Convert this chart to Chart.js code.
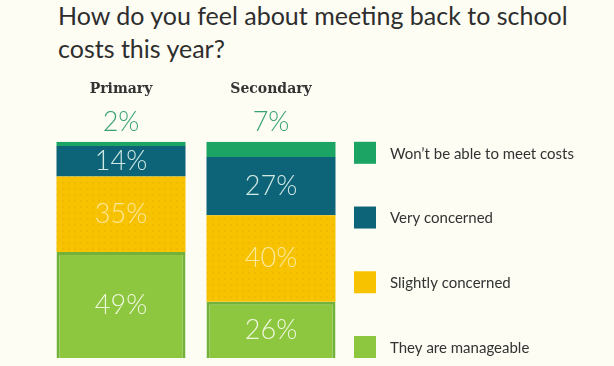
<!DOCTYPE html>
<html>
<head>
<meta charset="utf-8">
<script src="https://cdn.jsdelivr.net/npm/chart.js@4"></script>
<style>
  html, body { margin: 0; padding: 0; background: #fdfdf4; }
  #wrap { position: relative; width: 614px; height: 366px; }
  #title {
    position: absolute; left: 58px; top: -1px; margin: 0;
    font-family: Lato, sans-serif; font-weight: normal; font-size: 25px; line-height: 33px;
    color: #2e2e2e;
  }
  canvas { position: absolute; left: 0; top: 0; }
</style>
</head>
<body>
<div id="wrap">
  <h1 id="title">How do you feel about meeting back to school<br>costs this year?</h1>
  <canvas id="schoolChart" width="614" height="366"></canvas>
</div>
<script>
// survey answers, % of parents
const categories = ['Primary', 'Secondary'];
const manageable = [49, 26];
const slightlyConcerned = [35, 40];
const veryConcerned = [14, 27];
const wontMeetCosts = [2, 7];
const seriesNames = ['They are manageable', 'Slightly concerned', 'Very concerned', 'Won\u2019t be able to meet costs'];

// dotted yellow fill like the original
function dotPattern() {
    const c = document.createElement('canvas');
    c.width = 6; c.height = 6;
    const g = c.getContext('2d');
    g.fillStyle = '#f7c300';
    g.fillRect(0, 0, 6, 6);
    g.fillStyle = '#eeb600';
    g.beginPath();
    g.arc(3, 3, 0.9, 0, Math.PI * 2);
    g.fill();
    return g.createPattern(c, 'repeat');
}

const textColors = ['#eef7dc', '#fde79a', '#cfe9e3', '#3aa271'];

// percent labels inside each segment (small ones go above the bar)
const valueLabels = {
    id: 'valueLabels',
    afterDatasetsDraw(chart) {
        const c = chart.ctx;
        c.save();
        c.font = '300 27px Lato, sans-serif';
        c.textAlign = 'center';
        c.textBaseline = 'middle';
        chart.data.datasets.forEach((ds, i) => {
            const meta = chart.getDatasetMeta(i);
            meta.data.forEach((bar, j) => {
                const v = ds.data[j];
                if (v < 10) {
                    c.fillStyle = textColors[3];
                    c.fillText(v + '%', bar.x, bar.y - 20);
                } else {
                    c.fillStyle = textColors[i];
                    c.fillText(v + '%', bar.x, (bar.y + bar.base) / 2);
                }
            });
        });
        c.restore();
    }
};

// legend on the right, spread over the height of the bars
const sideLegend = {
    id: 'sideLegend',
    afterDraw(chart) {
        const c = chart.ctx;
        const area = chart.chartArea;
        const box = 22;
        const n = chart.data.datasets.length;
        const step = (area.bottom - area.top - box) / (n - 1);
        c.save();
        c.font = '15px Lato, sans-serif';
        c.textBaseline = 'middle';
        for (let k = 0; k < n; k++) {
            const ds = chart.data.datasets[n - 1 - k];
            const y = area.top + k * step;
            const x = area.right + 8;
            c.fillStyle = ds.legendColor;
            c.fillRect(x, y, box, box);
            c.fillStyle = '#333';
            c.fillText(ds.label, x + box + 14, y + box / 2 + 1);
        }
        c.restore();
    }
};

const yellow = dotPattern();

new Chart(document.getElementById('schoolChart'), {
    type: 'bar',
    data: {
        labels: categories,
        datasets: [
            { label: seriesNames[0], data: manageable, backgroundColor: '#8dc63f', borderColor: '#72b23a', borderWidth: 3, legendColor: '#8dc63f' },
            { label: seriesNames[1], data: slightlyConcerned, backgroundColor: yellow, borderWidth: 0, legendColor: '#f7c300' },
            { label: seriesNames[2], data: veryConcerned, backgroundColor: '#0d6378', borderWidth: 0, legendColor: '#0d6378' },
            { label: seriesNames[3], data: wontMeetCosts, backgroundColor: '#1ba463', borderWidth: 0, legendColor: '#1ba463' }
        ]
    },
    options: {
        responsive: false,
        animation: false,
        layout: { padding: { top: 37, left: 46, right: 268, bottom: 8 } },
        datasets: { bar: { categoryPercentage: 1, barPercentage: 0.86 } },
        plugins: {
            legend: { display: false },
            tooltip: { enabled: false }
        },
        scales: {
            x: {
                stacked: true,
                position: 'top',
                grid: { display: false, drawTicks: false },
                border: { display: false },
                ticks: {
                    padding: 44,
                    color: '#333',
                    font: { family: 'DejaVu Serif', weight: 'bold', size: 14 }
                }
            },
            y: {
                stacked: true,
                display: false,
                min: 0,
                max: 100
            }
        }
    },
    plugins: [valueLabels, sideLegend]
});
</script>
</body>
</html>
